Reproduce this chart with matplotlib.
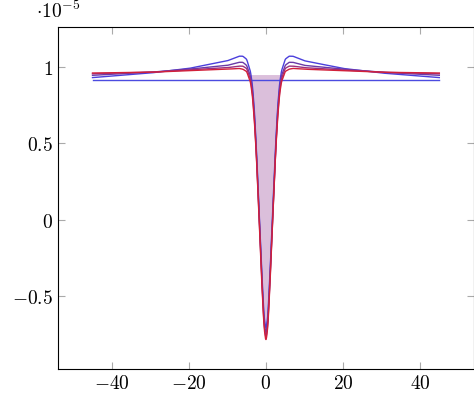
import matplotlib
matplotlib.use("Agg")
import matplotlib.pyplot as plt
import numpy as np
from matplotlib.ticker import FuncFormatter

plt.rcParams['mathtext.fontset'] = 'cm'
plt.rcParams['font.family'] = 'serif'
plt.rcParams['font.serif'] = ['DejaVu Serif']

# half-profile sample points (mirrored), values in units of 1e-5
x_half = [0, 0.5, 1, 1.5, 2, 2.5, 3, 3.5, 4, 5, 6, 7, 10, 20, 30, 45]
series = [
    [-0.72, -0.63, -0.38, -0.10, 0.20, 0.48, 0.72, 0.88, 0.97, 1.05, 1.07, 1.07, 1.04, 0.99, 0.96, 0.93],
    [-0.75, -0.66, -0.41, -0.12, 0.18, 0.46, 0.69, 0.85, 0.94, 1.01, 1.03, 1.03, 1.01, 0.985, 0.965, 0.945],
    [-0.78, -0.68, -0.43, -0.14, 0.16, 0.44, 0.67, 0.83, 0.92, 0.99, 1.005, 1.005, 0.995, 0.98, 0.965, 0.955],
    [-0.80, -0.70, -0.45, -0.16, 0.15, 0.43, 0.65, 0.81, 0.90, 0.97, 0.985, 0.99, 0.985, 0.975, 0.965, 0.96],
]
colors = ['#4b3fdc', '#6a3aa8', '#9a3080', '#d2203a']
flat_level = 0.915
fill_level = 0.95
x_range = [-45, 45]

xs = np.array([-v for v in x_half[::-1]] + x_half[1:], dtype=float)
xf = np.linspace(-45, 45, 4001)

def smooth(y, n=15):
    k = np.ones(n) / n
    yp = np.pad(y, n // 2, mode='edge')
    return np.convolve(yp, k, mode='valid')

fig = plt.figure(figsize=(4.74, 4.02), dpi=100)
ax = fig.add_axes([0.122, 0.08, 0.878, 0.85])

scale = 1e-5
red = smooth(np.interp(xf, xs, np.array(series[-1][::-1] + series[-1][1:])))
mask = red < fill_level
ax.fill_between(xf, fill_level * scale, red * scale, where=mask, color='#d8b8d8', alpha=0.9, lw=0)
ax.plot(x_range, [flat_level * scale] * 2, color='#4b4be0', lw=1.0)
for vals, c in zip(series, colors):
    ys = np.array(vals[::-1] + vals[1:])
    ax.plot(xf, smooth(np.interp(xf, xs, ys)) * scale, color=c, lw=1.0)

ax.set_xlim(-54, 54)
ax.set_ylim(-0.975e-5, 1.26e-5)
ax.set_xticks([-40, -20, 0, 20, 40])
ax.set_yticks(np.array([-0.5, 0, 0.5, 1]) * scale)
ax.xaxis.set_major_formatter(FuncFormatter(lambda v, p: r'$%g$' % v))
ax.yaxis.set_major_formatter(FuncFormatter(lambda v, p: r'$%g$' % round(v / scale, 2)))
ax.tick_params(direction='in', top=True, right=True, labelsize=14, color='#aaaaaa', length=5)
for s in ax.spines.values():
    s.set_linewidth(0.8)
fig.text(0.075, 0.955, r'$\cdot 10^{-5}$', fontsize=14)
fig.savefig('out.png', dpi=100)
